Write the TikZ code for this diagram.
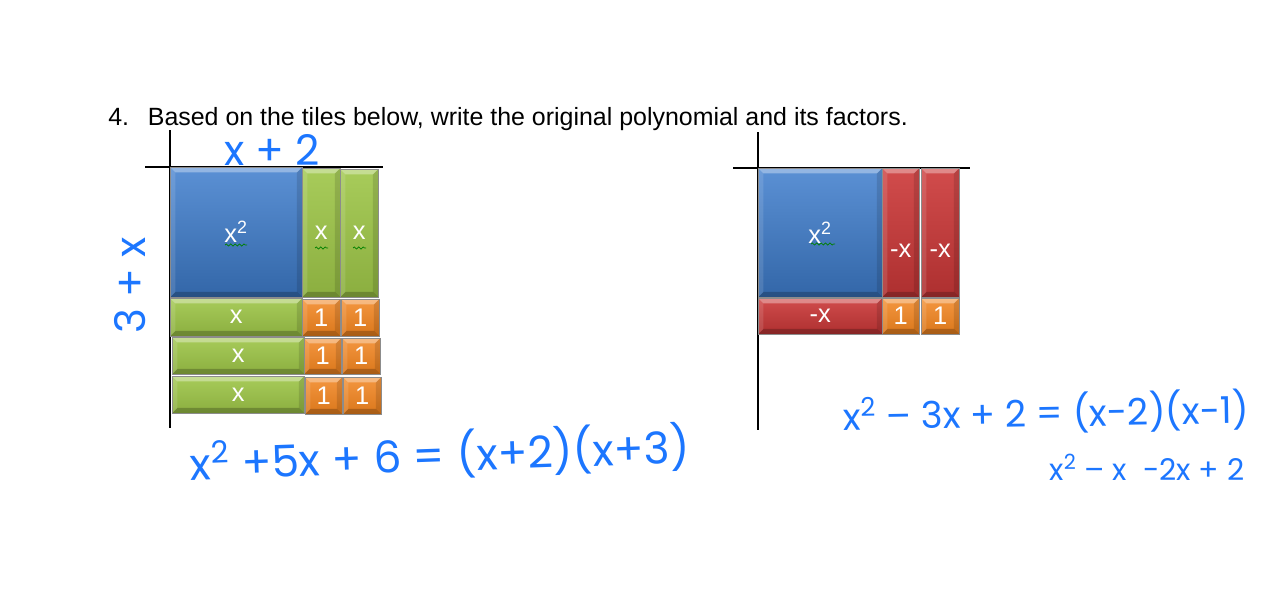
\documentclass[tikz,border=0pt]{standalone}
\usepackage{fontspec}
\setmainfont{Liberation Sans}
\newfontfamily\handfont{Poppins}
\usetikzlibrary{positioning,decorations.pathmorphing}
\definecolor{tileblue}{RGB}{62,125,205}
\definecolor{tilegreen}{RGB}{158,198,72}
\definecolor{tileorange}{RGB}{242,132,30}
\definecolor{tilered}{RGB}{204,56,56}
\definecolor{inkblue}{RGB}{28,118,255}

\begin{document}
\begin{tikzpicture}[x=0.02cm, y=-0.02cm,
    tile/.style 2 args={draw=black!45, very thin, anchor=north west, inner sep=0pt,
        minimum width=#1*0.02cm, minimum height=#2*0.02cm,
        text=white, font=\fontsize{14.5}{16}\selectfont,
        path picture={
            \fill[white, opacity=.35] (path picture bounding box.north west) -- (path picture bounding box.north east)
                -- ([shift={(-3pt,-3pt)}]path picture bounding box.north east) -- ([shift={(3pt,-3pt)}]path picture bounding box.north west) -- cycle;
            \fill[black, opacity=.22] (path picture bounding box.south west) -- (path picture bounding box.south east)
                -- ([shift={(-3pt,3pt)}]path picture bounding box.south east) -- ([shift={(3pt,3pt)}]path picture bounding box.south west) -- cycle;
            \fill[black, opacity=.12] (path picture bounding box.north east) -- (path picture bounding box.south east)
                -- ([shift={(-3pt,3pt)}]path picture bounding box.south east) -- ([shift={(-3pt,-3pt)}]path picture bounding box.north east) -- cycle;
            \fill[white, opacity=.12] (path picture bounding box.north west) -- (path picture bounding box.south west)
                -- ([shift={(3pt,3pt)}]path picture bounding box.south west) -- ([shift={(3pt,-3pt)}]path picture bounding box.north west) -- cycle;
        }},
    xsq/.style={top color=tileblue!85!white, bottom color=tileblue!82!black},
    xbar/.style={top color=tilegreen!90!white, bottom color=tilegreen!88!black},
    negbar/.style={top color=tilered!90!white, bottom color=tilered!85!black},
    one/.style={top color=tileorange!85!white, bottom color=tileorange!90!black},
    axis/.style={thick, black},
    ink/.style={text=inkblue, font=\handfont\fontsize{24}{26}\selectfont},
    squiggle/.style={draw=green!50!black, thin, decorate, decoration={snake, amplitude=0.6pt, segment length=2.5pt}}
]

% Frame
\useasboundingbox (0,0) rectangle (1268,595);

% Title
\node[anchor=base west, inner sep=0pt, font=\fontsize{14.2}{17}\selectfont] (title) at (108,125)
    {4.\hspace{0.75em}Based on the tiles below, write the original polynomial and its factors.};

% Left axes
\draw[axis] (145,167) -- (383,167);
\draw[axis] (170,130) -- (170,428);

% Left tiles
\node[tile={132}{130}, xsq] (sq) at (170,167) {x\textsuperscript{2}};
\node[tile={38}{129}, xbar] (v1) at (302,168) {x};
\node[tile={38}{128}, xbar] (v2) at (340,169) {x};
\node[tile={132}{38}, xbar] (h1) at (170,298) {x};
\node[tile={132}{37}, xbar] (h2) at (172,337) {x};
\node[tile={132}{37}, xbar] (h3) at (172,376) {x};
\node[tile={38}{37}, one] (o11) at (302,299) {1};
\node[tile={38}{37}, one] (o12) at (341,299) {1};
\node[tile={37}{36}, one] (o21) at (304,338) {1};
\node[tile={38}{36}, one] (o22) at (342,338) {1};
\node[tile={37}{37}, one] (o31) at (305,377) {1};
\node[tile={38}{37}, one] (o32) at (343,377) {1};

% Spell-check marks
\draw[squiggle] (225,245) -- (247,245);
\draw[squiggle] (315,248) -- (328,248);
\draw[squiggle] (353,248) -- (366,248);

% Right axes
\draw[axis] (733,168) -- (970,168);
\draw[axis] (758,132) -- (758,430);

% Right tiles
\node[tile={124}{129}, xsq] (sq2) at (758,168) {x\textsuperscript{2}};
\node[tile={37}{129}, negbar, label={[text=white, font=\fontsize{14.5}{16}\selectfont, yshift=-0.36cm]center:-x}] (nv1) at (882,168) {};
\node[tile={38}{129}, negbar, label={[text=white, font=\fontsize{14.5}{16}\selectfont, yshift=-0.36cm]center:-x}] (nv2) at (921,168) {};
\node[tile={124}{36}, negbar] (nh) at (758,298) {-x};
\node[tile={37}{36}, one] (u1) at (882,298) {1};
\node[tile={38}{36}, one] (u2) at (921,298) {1};

\draw[squiggle] (811,244) -- (835,244);

% Handwriting
\node[ink] (top) at (272,150) {x + 2};
\node[ink, rotate=90] (side) at (130,285) {3 + x};
\node[ink, font=\handfont\fontsize{25}{28}\selectfont, rotate=2] (eq1) at (440,455) {x\textsuperscript{2} +5x + 6 = (x+2)(x+3)};
\node[ink, font=\handfont\fontsize{21}{24}\selectfont, rotate=1] (eq2) at (1046,413) {x\textsuperscript{2} – 3x + 2 = (x-2)(x-1)};
\node[ink, font=\handfont\fontsize{17}{19}\selectfont] (eq3) at (1147,467) {x\textsuperscript{2} – x \ -2x + 2};

\end{tikzpicture}
\end{document}
